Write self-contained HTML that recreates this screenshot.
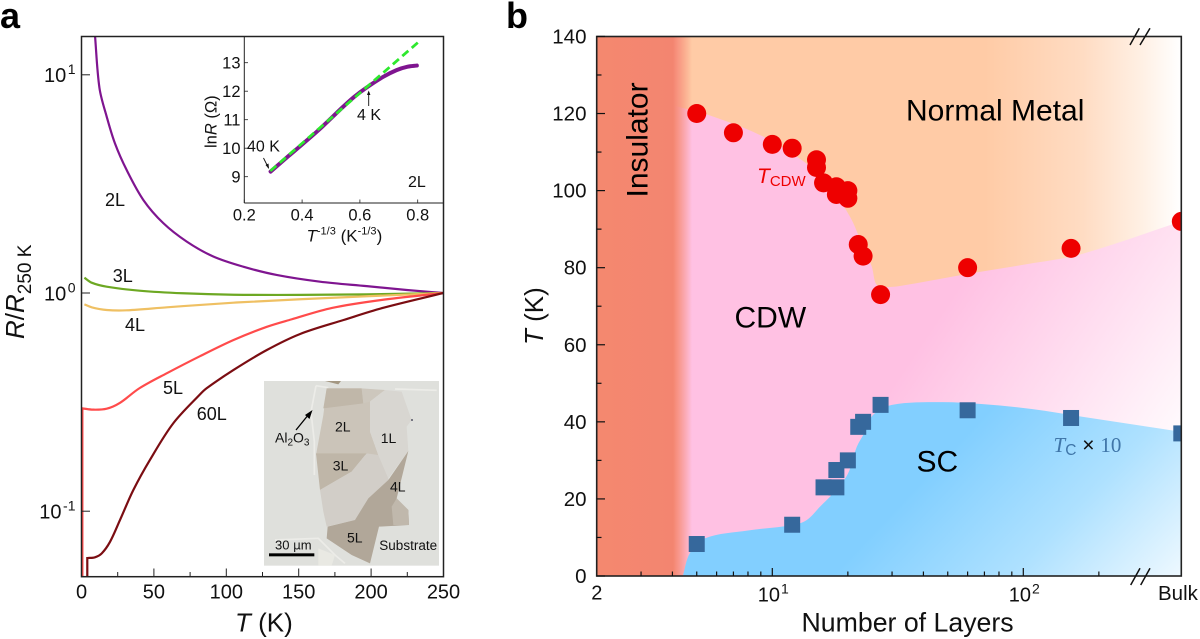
<!DOCTYPE html>
<html lang="en">
<head>
<meta charset="utf-8">
<title>Resistance and phase diagram</title>
<style>
html,body{margin:0;padding:0;background:#fff;}
svg{display:block;font-family:"Liberation Sans",sans-serif;fill:#111;}
.serif{font-family:"Liberation Serif",serif;}
</style>
</head>
<body>
<svg id="fig" xmlns="http://www.w3.org/2000/svg" width="1200" height="639" viewBox="0 0 1200 639">
<defs>
  <clipPath id="clipA"><rect x="81.5" y="36.5" width="362" height="540.2"/></clipPath>
  <clipPath id="clipB"><rect x="596.7" y="36.5" width="584.6" height="539.5"/></clipPath>
  <linearGradient id="gradPeach" gradientUnits="userSpaceOnUse" x1="985" y1="0" x2="1181" y2="0">
    <stop offset="0" stop-color="#ffcba6"/><stop offset="0.5" stop-color="#ffdcc3"/><stop offset="0.8" stop-color="#fff0e4"/><stop offset="1" stop-color="#ffffff"/>
  </linearGradient>
  <linearGradient id="gradPink" gradientUnits="userSpaceOnUse" x1="950" y1="300" x2="1190" y2="460">
    <stop offset="0" stop-color="#ffc1e3"/><stop offset="1" stop-color="#ffffff"/>
  </linearGradient>
  <linearGradient id="gradBlue" gradientUnits="userSpaceOnUse" x1="980" y1="420" x2="1170" y2="600">
    <stop offset="0" stop-color="#82cfff"/><stop offset="0.5" stop-color="#aee1ff"/><stop offset="1" stop-color="#f2faff"/>
  </linearGradient>
  <linearGradient id="gradIns" gradientUnits="userSpaceOnUse" x1="597" y1="0" x2="692" y2="0">
    <stop offset="0" stop-color="#f4886f"/><stop offset="0.8" stop-color="#f38570"/><stop offset="0.85" stop-color="#f78f7c" stop-opacity="0.9"/><stop offset="1" stop-color="#f4886f" stop-opacity="0"/>
  </linearGradient>
  <filter id="soft" x="-5%" y="-5%" width="110%" height="110%"><feGaussianBlur stdDeviation="1"/></filter>
</defs>

<text x="0" y="28" font-size="36" font-weight="700" fill="#000">a</text>
<text x="506" y="28" font-size="36" font-weight="700" fill="#000">b</text>

<!-- Panel a -->
<g id="panelA">
  <g id="photo" transform="translate(255 375) scale(0.33333)">
    <rect x="27" y="18" width="525" height="554" fill="#dfe0dc"/>
    <g filter="url(#soft)">
      <path d="M183 32 L220 38 M183 32 L168 110 L178 200 L178 300 M420 42 L545 46 M60 495 L190 490 L240 540 L270 565" fill="none" stroke="#ececE8" stroke-width="5"/>
      <polygon points="215,40 320,40 345,80 345,170 370,240 183,240 205,120" fill="#cbc4b9"/>
      <polygon points="215,40 320,40 325,85 205,100" fill="#c0b7a9"/>
      <polygon points="320,40 390,45 345,80 325,85" fill="#cdc7bd"/>
      <polygon points="390,45 440,50 470,135 455,155 460,228 400,310 370,240 345,170 345,80" fill="#d8d6d1"/>
      <polygon points="183,235 335,235 290,290 195,345" fill="#bfb6a8"/>
      <polygon points="195,345 290,290 335,235 370,240 400,310 415,345 300,435 215,455 205,410" fill="#d2cec8"/>
      <polygon points="460,228 425,370 460,405 462,450 372,455 345,565 290,540 215,490 218,455 300,435 340,370 400,315" fill="#b1a799"/>
      <polygon points="425,370 460,405 462,450 415,450 410,395" fill="#c0b8ac"/>
      <path d="M190 520 L240 540 L230 572 L190 572 Z" fill="#e9e9e3"/>
      <path d="M210 18 L258 18 L250 28 Z" fill="#a39782"/>
      <circle cx="471" cy="135" r="3" fill="#556"/>
    </g>
    <rect x="42" y="535" width="136" height="9" fill="#000"/>
  </g>
  <line x1="296" y1="430" x2="309" y2="414" stroke="#000" stroke-width="1.3"/>
  <polygon points="312.5,410 305,415 309.5,419" fill="#000"/>
  <g font-size="13" fill="#111">
    <text x="335" y="431.7" font-size="14">2L</text>
    <text x="380.7" y="443" font-size="14">1L</text>
    <text x="332.7" y="470.7" font-size="14">3L</text>
    <text x="390" y="491.7" font-size="14">4L</text>
    <text x="347" y="542.7" font-size="14">5L</text>
    <text x="379.3" y="550" font-size="13.5">Substrate</text>
    <text x="275" y="549.3" font-size="13">30 <tspan font-family="'DejaVu Sans',sans-serif" font-size="12">μ</tspan>m</text>
    <text x="275" y="442.7" font-size="14">Al<tspan font-size="10" dy="3">2</tspan><tspan dy="-3">O</tspan><tspan font-size="10" dy="3">3</tspan></text>
  </g>

  <g id="curvesA" clip-path="url(#clipA)"></g>
  <rect x="81.5" y="36.5" width="362" height="540.2" fill="none" stroke="#222" stroke-width="1.5"/>
  <g id="ticksA"></g>

  <g font-size="18" fill="#111">
    <text x="105" y="206">2L</text>
    <text x="112.7" y="282">3L</text>
    <text x="125" y="331">4L</text>
    <text x="163" y="394">5L</text>
    <text x="196.7" y="420">60L</text>
  </g>
  <text x="235" y="631.5" font-size="26" fill="#111"><tspan font-style="italic">T</tspan> (K)</text>
  <text transform="translate(24 339) rotate(-90)" font-size="26" fill="#111"><tspan font-style="italic">R</tspan>/<tspan font-style="italic">R</tspan><tspan font-size="19" dy="7">250 K</tspan></text>

  <!-- Inset -->
  <g id="insetA"></g>
  <g font-size="16" fill="#111">
    <text x="247" y="151.7">40 K</text>
    <text x="357" y="120">4 K</text>
    <text x="408" y="187">2L</text>
  </g>
  <line x1="263.5" y1="158" x2="268.5" y2="168" stroke="#111" stroke-width="0.9"/>
  <polygon points="269,169 265.5,165 268.5,163.5" fill="#111"/>
  <line x1="368.7" y1="106" x2="368.7" y2="92" stroke="#111" stroke-width="0.9"/>
  <polygon points="368.7,90.5 367,95 370.4,95" fill="#111"/>
  <text x="306.5" y="241.7" font-size="17" fill="#111"><tspan font-style="italic">T</tspan><tspan font-size="11" dy="-7">-1/3</tspan><tspan dy="7"> (K</tspan><tspan font-size="11" dy="-7">-1/3</tspan><tspan dy="7">)</tspan></text>
  <text transform="translate(216.7 148) rotate(-90)" font-size="16.5" fill="#111">ln<tspan font-style="italic">R</tspan> (Ω)</text>
</g>

<!-- Panel b -->
<g id="panelB">
  <g id="regionsB" clip-path="url(#clipB)"></g>
  <g id="marksB" clip-path="url(#clipB)"></g>
  <rect x="596.7" y="36.5" width="584.6" height="539.5" fill="none" stroke="#222" stroke-width="1.6"/>
  <g id="ticksB"></g>
  <g stroke="#111" stroke-width="1.5" fill="none">
    <line x1="1130" y1="45" x2="1139.3" y2="28.3"/>
    <line x1="1140" y1="45" x2="1150" y2="28.3"/>
    <line x1="1130.7" y1="585" x2="1140" y2="568.3"/>
    <line x1="1140.7" y1="585" x2="1150" y2="568.3"/>
  </g>
  <text transform="translate(647.7 197.5) rotate(-90)" font-size="30" fill="#000">Insulator</text>
  <text x="906" y="120.7" font-size="30" fill="#000">Normal Metal</text>
  <text x="734.5" y="327.5" font-size="30" fill="#000">CDW</text>
  <text x="916.5" y="471.5" font-size="30" fill="#000">SC</text>
  <text x="757" y="183" font-size="21" fill="#ee0000"><tspan font-style="italic">T</tspan><tspan font-size="15" dy="3">CDW</tspan></text>
  <text x="1053.5" y="452" font-size="21" fill="#3f75a8" class="serif"><tspan font-style="italic">T</tspan><tspan font-size="15.5" dy="3" font-family="'Liberation Sans',sans-serif">C</tspan><tspan dy="-3" fill="#111" font-family="'Liberation Sans',sans-serif"> × </tspan><tspan>10</tspan></text>
  <text x="801.5" y="631.5" font-size="26.7" fill="#111">Number of Layers</text>
  <text transform="translate(543 345) rotate(-90)" font-size="26" fill="#111"><tspan font-style="italic">T</tspan> (K)</text>
</g>

<script>
// ---- Panel a: R/R250K vs T ----
var t2L = [9.2, 12.4, 17.4, 23.1, 31.2, 42.7, 56.5, 72.7, 91, 111.7, 134.7, 164.7, 197, 224.6, 250];
var r2L = [15.5, 8.7, 6.43, 4.85, 3.66, 2.67, 2.09, 1.72, 1.47, 1.32, 1.21, 1.127, 1.075, 1.032, 1];
var t3L = [2, 7, 17.4, 40, 70, 105, 152, 197, 250];
var r3L = [1.175, 1.115, 1.069, 1.025, 0.997, 0.982, 0.98, 0.986, 1];
var t4L = [2, 7, 17.4, 31, 59, 105, 151, 197, 250];
var r4L = [0.887, 0.86, 0.836, 0.833, 0.86, 0.903, 0.936, 0.966, 1];
var t5L = [0.6, 8, 17.4, 26.6, 40, 59, 82, 105, 128, 145, 173, 207, 250];
var r5L = [0.296, 0.292, 0.295, 0.314, 0.366, 0.429, 0.514, 0.609, 0.70, 0.757, 0.854, 0.929, 1];
var t60L = [4, 9.3, 14, 19.7, 26.6, 35.8, 47.3, 63.4, 82, 86.4, 105, 128, 151, 181, 208, 250];
var r60L = [0.061, 0.0615, 0.0641, 0.0724, 0.0912, 0.125, 0.172, 0.253, 0.344, 0.366, 0.444, 0.548, 0.649, 0.752, 0.854, 1];
var dropT5L = 0.6;
var dropT60L = 4;
var aBottomR = 0.05;
var aXTickValues = [0, 50, 100, 150, 200, 250];
var aXMinorValues = [25, 75, 125, 175, 225];
var aYTickValues = [10, 1, 0.1];
var aYExponents = ['1', '0', '-1'];

// ---- Inset: ln R vs T^-1/3 ----
var insetX = [0.291, 0.35, 0.40, 0.462, 0.5415, 0.58, 0.6235, 0.68, 0.727, 0.765, 0.797];
var insetY = [9.18, 9.70, 10.13, 10.68, 11.45, 11.8, 12.13, 12.5, 12.74, 12.86, 12.9];
var fitX = [0.29, 0.802];
var fitY = [9.2, 13.72];
var insetXTicks = [0.2, 0.4, 0.6, 0.8];
var insetYTicks = [9, 10, 11, 12, 13];

// ---- Panel b: phase diagram ----
var tcdwLayers = [5, 7, 10, 12, 15, 15, 16, 18, 18, 20, 20, 22, 23, 27, 60, 155, 'bulk'];
var tcdwValues = [120, 115, 112, 111, 108, 106, 102, 101, 99, 100, 98, 86, 83, 73, 80, 85, 92];
var tcLayers = [5, 12, 16, 18, 18, 20, 22, 23, 27, 60, 155, 'bulk'];
var tcValues = [8.3, 13.3, 23, 23, 27.5, 30, 38.7, 40, 44.4, 43, 41, 37];
var cdwEdgeLayers = [4.09, 5.82, 9.2, 13.7, 17, 20.4, 22.5, 24.9, 26, 28, 32, 60, 110, 170, 'bulk'];
var cdwEdgeValues = [122, 119.2, 114, 107, 101, 93.2, 87, 80.3, 75.6, 75, 75.2, 78.4, 81.2, 83.5, 92];
var scEdgeLayers = [4.4, 4.7, 5.4, 8, 12, 13.7, 15.5, 17.5, 20, 21.7, 23.4, 25.2, 30, 46.6, 69, 109, 173, 'bulk'];
var scEdgeValues = [0, 6, 9.8, 11.8, 13.2, 14.5, 18, 21.5, 26.5, 33.5, 37.4, 41.8, 44.4, 45.1, 44.6, 43.3, 41.3, 37.4];
var bYTicks = [0, 20, 40, 60, 80, 100, 120, 140];
var bYMinor = [10, 30, 50, 70, 90, 110, 130];
var bXMinor = [3, 4, 5, 6, 7, 8, 9, 20, 30, 40, 50, 60, 70, 80, 90, 200];
var bXMajor = [10, 100];
var bXMajorExp = ['1', '2'];

var NS = 'http://www.w3.org/2000/svg';
function xA(t) { return 81.5 + 1.448 * t; }
function yA(r) { return 293 - 218.2 * Math.log10(r); }
function xI(v) { return 244.3 + 289 * (v - 0.2); }
function yI(v) { return 176.7 - 28.5 * (v - 9); }
function xB(n) { return n === 'bulk' ? 1181.3 : 772.3 + 251 * (Math.log10(n) - 1); }
function yB(t) { return 576 - 3.854 * t; }

function make(tag, attrs, parent) {
  var el = document.createElementNS(NS, tag);
  for (var k in attrs) { el.setAttribute(k, attrs[k]); }
  parent.appendChild(el);
  return el;
}
// Chord-length scaled spline: keeps unevenly spaced points free of kinks
function dist(a, b) { return Math.hypot(b[0] - a[0], b[1] - a[1]) || 0.001; }
function tangent(pts, i) {
  var a = pts[Math.max(i - 1, 0)], b = pts[Math.min(i + 1, pts.length - 1)];
  var len = dist(a, b);
  return [(b[0] - a[0]) / len, (b[1] - a[1]) / len];
}
function spline(pts) {
  var d = '';
  for (var i = 0; i < pts.length - 1; i++) {
    var p1 = pts[i], p2 = pts[i + 1], s = dist(p1, p2) / 3;
    var t1 = tangent(pts, i), t2 = tangent(pts, i + 1);
    d += ' C' + (p1[0] + t1[0] * s).toFixed(2) + ' ' + (p1[1] + t1[1] * s).toFixed(2) + ' ' + (p2[0] - t2[0] * s).toFixed(2) + ' ' + (p2[1] - t2[1] * s).toFixed(2) + ' ' + p2[0].toFixed(2) + ' ' + p2[1].toFixed(2);
  }
  return d;
}
function toPts(xs, ys, fx, fy) {
  return xs.map(function (x, i) { return [fx(x), fy(ys[i])]; });
}

// Panel a curves
var curvesA = document.getElementById('curvesA');
var seriesA = [
  { key: '2l', t: t2L, r: r2L, color: '#7f1590', drop: null },
  { key: '3l', t: t3L, r: r3L, color: '#6da823', drop: null },
  { key: '4l', t: t4L, r: r4L, color: '#efc063', drop: null },
  { key: '5l', t: t5L, r: r5L, color: '#ff4b4b', drop: dropT5L },
  { key: '60l', t: t60L, r: r60L, color: '#7b0d12', drop: dropT60L }
];
seriesA.forEach(function (s) {
  var pts = toPts(s.t, s.r, xA, yA);
  var d = 'M' + pts[0][0] + ' ' + pts[0][1] + spline(pts);
  if (s.drop !== null) {
    d = 'M' + xA(s.drop) + ' ' + yA(aBottomR) + ' L' + pts[0][0] + ' ' + pts[0][1] + spline(pts);
  }
  var el = make('path', { d: d, fill: 'none', stroke: s.color, 'stroke-width': 2.2 }, curvesA);
  
  
});

// Panel a ticks
var ticksA = document.getElementById('ticksA');
aXTickValues.forEach(function (v) {
  var el = make('line', { x1: xA(v), x2: xA(v), y1: 576.7, y2: 568.5, stroke: '#222', 'stroke-width': 1 }, ticksA);
  
  
  var tx = make('text', { x: xA(v), y: 598.3, 'text-anchor': 'middle', 'font-size': 20 }, ticksA);
  tx.textContent = String(v);
  
  
});
aXMinorValues.forEach(function (v) {
  var el = make('line', { x1: xA(v), x2: xA(v), y1: 576.7, y2: 572, stroke: '#222', 'stroke-width': 1 }, ticksA);
  
  
});
aYTickValues.forEach(function (v, i) {
  var el = make('line', { x1: 81.5, x2: 90, y1: yA(v), y2: yA(v), stroke: '#222', 'stroke-width': 1 }, ticksA);
  
  
  var tx = make('text', { x: 75.5, y: yA(v) + 7.3, 'text-anchor': 'end', 'font-size': 20 }, ticksA);
  
  
  var base = make('tspan', {}, tx);
  base.textContent = '10';
  var sup = make('tspan', { 'font-size': 14, dy: -8, dx: 1.5 }, tx);
  sup.textContent = aYExponents[i];
});

// Inset
var insetG = document.getElementById('insetA');
var ixAxis = make('line', { x1: 244.3, x2: 443.5, y1: 203, y2: 203, stroke: '#222', 'stroke-width': 1 }, insetG);


var iyAxis = make('line', { x1: 244.3, x2: 244.3, y1: 36.5, y2: 203, stroke: '#222', 'stroke-width': 1 }, insetG);


insetXTicks.forEach(function (v) {
  var el = make('line', { x1: xI(v), x2: xI(v), y1: 203, y2: 199.5, stroke: '#222', 'stroke-width': 0.8 }, insetG);
  
  
  var tx = make('text', { x: xI(v), y: 220.7, 'text-anchor': 'middle', 'font-size': 16.5 }, insetG);
  tx.textContent = v.toFixed(1);
  
  
});
insetYTicks.forEach(function (v) {
  var el = make('line', { x1: 244.3, x2: 248, y1: yI(v), y2: yI(v), stroke: '#222', 'stroke-width': 0.8 }, insetG);
  
  
  var tx = make('text', { x: 240.5, y: yI(v) + 5.7, 'text-anchor': 'end', 'font-size': 16.5 }, insetG);
  tx.textContent = String(v);
  
  
});
var iPts = toPts(insetX, insetY, xI, yI);
var iCurve = make('path', { d: 'M' + iPts[0][0] + ' ' + iPts[0][1] + spline(iPts), fill: 'none', stroke: '#7f1590', 'stroke-width': 4, 'stroke-linecap': 'round' }, insetG);


var iFit = make('line', { x1: xI(fitX[0]), y1: yI(fitY[0]), x2: xI(fitX[1]), y2: yI(fitY[1]), stroke: '#2ee82e', 'stroke-width': 2.8, 'stroke-dasharray': '8 4.5' }, insetG);



// Panel b regions
var regions = document.getElementById('regionsB');
var peach = make('rect', { x: 596.7, y: 36.5, width: 584.6, height: 539.5, fill: 'url(#gradPeach)' }, regions);


var cdwPts = toPts(cdwEdgeLayers, cdwEdgeValues, xB, yB);
var cdwD = 'M' + cdwPts[0][0] + ' ' + cdwPts[0][1] + spline(cdwPts) + ' L' + xB('bulk') + ' ' + yB(0) + ' L' + cdwPts[0][0] + ' ' + yB(0) + ' Z';
var pink = make('path', { d: cdwD, fill: 'url(#gradPink)' }, regions);


var ins = make('rect', { x: 596.7, y: 36.5, width: 96, height: 539.5, fill: 'url(#gradIns)' }, regions);


var scPts = toPts(scEdgeLayers, scEdgeValues, xB, yB);
var scD = 'M' + scPts[0][0] + ' ' + scPts[0][1] + spline(scPts) + ' L' + xB('bulk') + ' ' + yB(0) + ' Z';
var blue = make('path', { d: scD, fill: 'url(#gradBlue)' }, regions);



// Panel b markers
var marks = document.getElementById('marksB');
tcdwLayers.forEach(function (n, i) {
  var el = make('circle', { cx: xB(n), cy: yB(tcdwValues[i]), r: 9.5, fill: '#ee0000' }, marks);
  
  
});
tcLayers.forEach(function (n, i) {
  var el = make('rect', { x: xB(n) - 8, y: yB(tcValues[i]) - 8, width: 16, height: 16, fill: '#36689c' }, marks);
  
  
});

// Panel b ticks
var ticksB = document.getElementById('ticksB');
bYTicks.forEach(function (v) {
  var el = make('line', { x1: 596.7, x2: 605, y1: yB(v), y2: yB(v), stroke: '#111', 'stroke-width': 1.2 }, ticksB);
  
  
  var tx = make('text', { x: 586.5, y: yB(v) + 7, 'text-anchor': 'end', 'font-size': 20.5 }, ticksB);
  tx.textContent = String(v);
  
  
});
bYMinor.forEach(function (v) {
  var el = make('line', { x1: 596.7, x2: 601.5, y1: yB(v), y2: yB(v), stroke: '#111', 'stroke-width': 1.2 }, ticksB);
  
  
});
bXMinor.forEach(function (v) {
  var el = make('line', { x1: xB(v), x2: xB(v), y1: 576, y2: 571.5, stroke: '#111', 'stroke-width': 1.2 }, ticksB);
  
  
});
bXMajor.forEach(function (v, i) {
  var el = make('line', { x1: xB(v), x2: xB(v), y1: 576, y2: 568, stroke: '#111', 'stroke-width': 1.2 }, ticksB);
  
  
  var tx = make('text', { x: xB(v) - 14.5, y: 601.5, 'font-size': 20 }, ticksB);
  
  
  var base = make('tspan', {}, tx);
  base.textContent = '10';
  var sup = make('tspan', { 'font-size': 14, dy: -8, dx: 1 }, tx);
  sup.textContent = bXMajorExp[i];
});
var xStart = make('text', { x: xB(2), y: 599.5, 'text-anchor': 'middle', 'font-size': 20 }, ticksB);
xStart.textContent = '2';


var xBulk = make('text', { x: 1158, y: 600, 'font-size': 20.5 }, ticksB);
xBulk.textContent = 'Bulk';


</script>
</svg>
</body>
</html>
